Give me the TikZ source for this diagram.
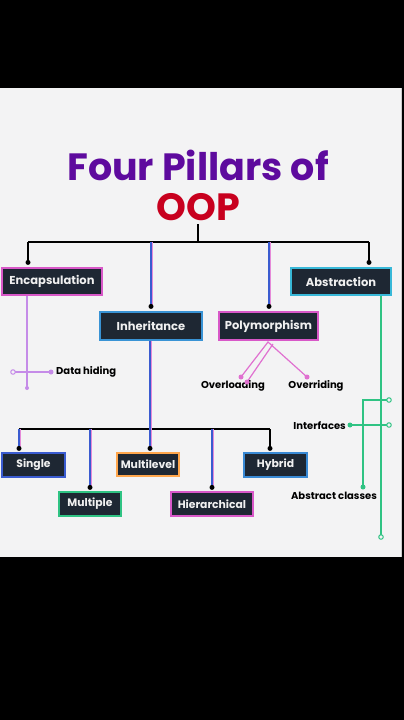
\documentclass[tikz,border=0pt]{standalone}
\usepackage{fontspec}
\setmainfont{Poppins}
\usepackage{tikz}
\usepackage{xcolor}
\definecolor{panel}{HTML}{F3F3F4}
\definecolor{titlepurple}{HTML}{5E0A9E}
\definecolor{oopred}{HTML}{C8001E}
\definecolor{boxfill}{HTML}{1E2733}
\definecolor{glitchblue}{HTML}{3A5BD0}
\definecolor{glitchpink}{HTML}{E58AD8}
\definecolor{lavender}{HTML}{C58BE8}
\definecolor{polypink}{HTML}{E070D0}
\definecolor{absgreen}{HTML}{2FC383}
\definecolor{boxpink}{HTML}{D858C8}
\definecolor{boxcyan}{HTML}{38B8D8}
\tikzset{
    title-text/.style = {font=\bfseries\fontsize{38}{42}\selectfont, inner sep=0pt},
    pillar-box/.style = {draw=#1, fill=boxfill, line width=1.2pt, rectangle, text=white!88!gray, font=\bfseries\fontsize{11.5}{13}\selectfont, minimum height=27pt, inner sep=2pt},
    kind-box/.style = {draw=#1, fill=boxfill, line width=1.2pt, rectangle, text=white!88!gray, font=\bfseries\fontsize{10.8}{12}\selectfont, minimum height=24pt, inner sep=2pt},
    leaf-label/.style = {font=\bfseries\fontsize{10}{12}\selectfont, text=black, inner sep=1pt},
    bus/.style = {draw=black, line width=1.3pt},
    glitch/.style = {draw=glitchblue, line width=1.6pt, preaction={draw=glitchpink, line width=1.6pt, transform canvas={xshift=1.6pt}}},
    dot/.style = {circle, fill=#1, inner sep=0pt, minimum size=5pt},
    ring/.style = {circle, draw=#1, fill=panel, line width=1pt, inner sep=0pt, minimum size=4.5pt},
}

\begin{document}
\begin{tikzpicture}[x=1pt, y=-1pt]
\useasboundingbox (0,0) rectangle (404,720);
\fill[black] (0,0) rectangle (404,720);
\fill[panel] (0,88) rectangle (401,557);
\draw[gray!40, line width=0.8pt] (401,88) -- (401,557);

% title
\node[title-text, text=titlepurple] (title) at (198,165) {Four Pillars of};
\node[title-text, text=oopred] (oop) at (198,207.5) {OOP};

% the four pillars
\node[pillar-box=boxpink, minimum width=100pt] (encap) at (52,281.5) {Encapsulation};
\node[pillar-box=boxcyan, minimum width=100pt] (abstr) at (341,281.5) {Abstraction};
\node[pillar-box=boxcyan!60!glitchblue, minimum width=102pt, minimum height=28pt] (inher) at (151,326) {Inheritance};
\node[pillar-box=boxpink, minimum width=99pt, minimum height=28pt] (poly) at (268.5,326) {Polymorphism};

% kinds of inheritance
\node[kind-box=glitchblue, minimum width=63pt] (single) at (33.5,465) {Single};
\node[kind-box=orange!70, minimum width=62pt, minimum height=23pt] (multilevel) at (148,464.5) {Multilevel};
\node[kind-box=boxcyan!50!glitchblue, minimum width=63pt] (hybrid) at (275.5,465) {Hybrid};
\node[kind-box=absgreen, minimum width=62pt] (multiple) at (90,504) {Multiple};
\node[kind-box=boxpink, minimum width=82pt] (hierarch) at (212,504) {Hierarchical};

% leaves
\node[leaf-label, anchor=west] (hiding) at (55,372) {Data hiding};
\node[leaf-label] (overload) at (233,385.5) {Overloading};
\node[leaf-label] (override) at (316,385.5) {Overriding};
\node[leaf-label, anchor=east] (iface) at (347,426) {Interfaces};
\node[leaf-label] (abscls) at (334,496) {Abstract classes};

% top bus
\coordinate (bus-top) at (198,242);
\coordinate (bus-l) at (28,242);
\coordinate (bus-r) at (369,242);
\draw[bus] (oop.south) ++(0,3) -- (bus-top);
\draw[bus] (bus-l) -- (bus-r);
\draw[bus] (bus-l) -- ([yshift=5pt]encap.north -| bus-l) node[dot=black] {};
\draw[bus] (bus-r) -- ([yshift=5pt]abstr.north -| bus-r) node[dot=black] {};
\draw[glitch] (inher.north |- bus-top) -- ([yshift=5pt]inher.north);
\node[dot=black] at ([yshift=5pt]inher.north) {};
\draw[glitch] (269,242) -- ([yshift=5pt]poly.north -| 269,0);
\node[dot=black] at ([yshift=5pt]poly.north -| 269,0) {};

% encapsulation
\coordinate (encap-foot) at (27,388);
\draw[lavender, line width=1.2pt] (encap.south -| encap-foot) -- (encap-foot) node[dot=lavender, minimum size=4pt] {};
\draw[lavender, line width=1.2pt] (13,372) -- (51,372);
\node[ring=lavender] at (13,372) {};
\node[dot=lavender] at (51,372) {};

% polymorphism
\coordinate (poly-apex) at (268,342);
\draw[polypink, line width=1.2pt] (241,377) node[dot=polypink] {} -- (poly-apex) -- (307,377) node[dot=polypink] {};
\draw[polypink, line width=1.2pt] (poly-apex) ++(5,2) -- (247,382) node[dot=polypink] {};

% inheritance
\coordinate (kind-bus-l) at (19,429);
\coordinate (kind-bus-r) at (270,429);
\draw[bus] (kind-bus-l) -- (kind-bus-r);
\draw[glitch] (inher.south -| 150,0) -- ([yshift=4pt]multilevel.north -| 150,0);
\node[dot=black] at ([yshift=4pt]multilevel.north -| 150,0) {};
\foreach \kid/\x in {single/19, multiple/90, hierarch/212} {
    \draw[glitch] (\x,429) -- ([yshift=4pt]\kid.north -| \x,0);
    \node[dot=black] at ([yshift=4pt]\kid.north -| \x,0) {};
}
\draw[bus] (kind-bus-r) -- ([yshift=4pt]hybrid.north -| kind-bus-r) node[dot=black] {};

% abstraction
\coordinate (abs-foot) at (381,537);
\draw[absgreen, line width=1.2pt] (abstr.south -| abs-foot) -- (abs-foot) node[ring=absgreen] {};
\draw[absgreen, line width=1.2pt] (350,425) node[dot=absgreen] {} -- (389,425) node[ring=absgreen] {};
\draw[absgreen, line width=1.2pt] (363,487) node[dot=absgreen] {} -- (363,400) -- (389,400) node[ring=absgreen] {};
\end{tikzpicture}
\end{document}
